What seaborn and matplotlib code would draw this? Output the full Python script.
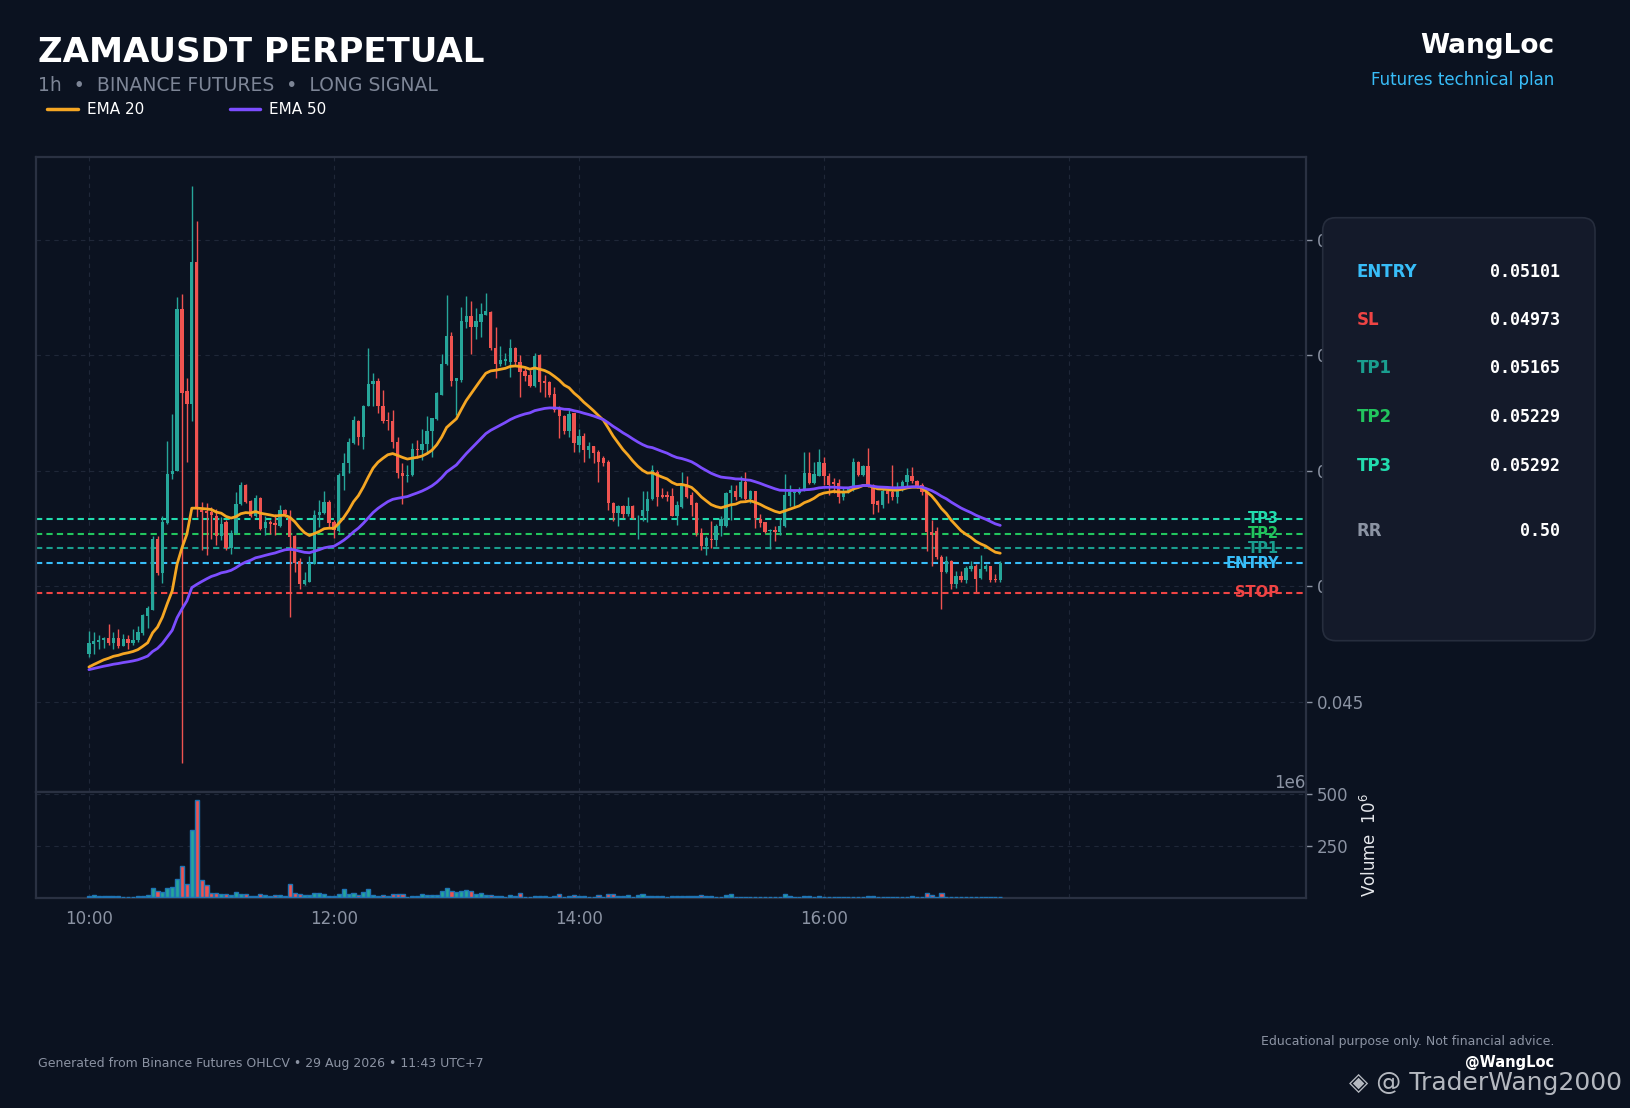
import numpy as np
import pandas as pd
import matplotlib
matplotlib.use("Agg")
import matplotlib.pyplot as plt
import seaborn as sns
from matplotlib.patches import FancyBboxPatch
from matplotlib.lines import Line2D
from matplotlib.ticker import FuncFormatter, ScalarFormatter

# ---------------- data ----------------
symbol = "ZAMAUSDT PERPETUAL"
subtitle = "1h  \u2022  BINANCE FUTURES  \u2022  LONG SIGNAL"
start_time = "2026-08-21 10:00"

opens = [
    0.04707, 0.04751, 0.04761, 0.04770, 0.04778, 0.04753, 0.04778, 0.04743, 0.04773, 0.04753,
    0.04770, 0.04798, 0.04872, 0.04897, 0.05207, 0.05058, 0.05275, 0.05485, 0.05498, 0.06202,
    0.05844, 0.05788, 0.06404, 0.05329, 0.05326, 0.05322, 0.05303, 0.05217, 0.05279, 0.05167,
    0.05231, 0.05358, 0.05437, 0.05368, 0.05303, 0.05382, 0.05253, 0.05279, 0.05276, 0.05260,
    0.05329, 0.05296, 0.05217, 0.05111, 0.05009, 0.05020, 0.05099, 0.05308, 0.05318, 0.05365,
    0.05279, 0.05240, 0.05477, 0.05534, 0.05621, 0.05717, 0.05645, 0.05783, 0.05876, 0.05889,
    0.05779, 0.05721, 0.05717, 0.05624, 0.05491, 0.05477, 0.05484, 0.05596, 0.05589, 0.05618,
    0.05671, 0.05724, 0.05829, 0.05963, 0.06083, 0.05891, 0.05894, 0.06145, 0.06170, 0.06124,
    0.06145, 0.06177, 0.06188, 0.06034, 0.05963, 0.05975, 0.05973, 0.06030, 0.05973, 0.05934,
    0.05915, 0.05868, 0.06001, 0.05889, 0.05886, 0.05833, 0.05767, 0.05736, 0.05671, 0.05750,
    0.05612, 0.05651, 0.05591, 0.05608, 0.05583, 0.05555, 0.05540, 0.05363, 0.05317, 0.05349,
    0.05313, 0.05349, 0.05303, 0.05303, 0.05325, 0.05378, 0.05497, 0.05396, 0.05395, 0.05392,
    0.05307, 0.05343, 0.05443, 0.05396, 0.05361, 0.05231, 0.05174, 0.05207, 0.05203, 0.05260,
    0.05260, 0.05404, 0.05415, 0.05385, 0.05454, 0.05378, 0.05411, 0.05293, 0.05277, 0.05241,
    0.05246, 0.05234, 0.05260, 0.05392, 0.05404, 0.05404, 0.05418, 0.05493, 0.05447, 0.05479,
    0.05533, 0.05478, 0.05450, 0.05447, 0.05386, 0.05415, 0.05418, 0.05540, 0.05483, 0.05522,
    0.05440, 0.05368, 0.05353, 0.05415, 0.05407, 0.05386, 0.05418, 0.05450, 0.05478, 0.05458,
    0.05440, 0.05411, 0.05234, 0.05238, 0.05128, 0.05062, 0.05109, 0.05009, 0.05044, 0.05027,
    0.05076, 0.05090, 0.05037, 0.05074, 0.05088, 0.05033, 0.05027,
]
highs = [
    0.04806, 0.04801, 0.04789, 0.04781, 0.04839, 0.04801, 0.04817, 0.04794, 0.04789, 0.04817,
    0.04827, 0.04880, 0.04914, 0.05220, 0.05220, 0.05303, 0.05629, 0.05745, 0.06252, 0.06268,
    0.05904, 0.06732, 0.06581, 0.05365, 0.05362, 0.05343, 0.05336, 0.05300, 0.05286, 0.05243,
    0.05408, 0.05451, 0.05444, 0.05372, 0.05397, 0.05389, 0.05303, 0.05286, 0.05315, 0.05354,
    0.05336, 0.05329, 0.05221, 0.05124, 0.05063, 0.05131, 0.05332, 0.05372, 0.05415, 0.05372,
    0.05286, 0.05490, 0.05578, 0.05642, 0.05738, 0.05721, 0.05786, 0.06034, 0.05922, 0.05901,
    0.05851, 0.05757, 0.05764, 0.05645, 0.05534, 0.05527, 0.05621, 0.05635, 0.05681, 0.05736,
    0.05731, 0.05843, 0.06004, 0.06260, 0.06102, 0.05904, 0.06210, 0.06256, 0.06234, 0.06207,
    0.06228, 0.06272, 0.06192, 0.06121, 0.06040, 0.06010, 0.06073, 0.06035, 0.06001, 0.05951,
    0.05937, 0.06009, 0.06005, 0.05915, 0.05890, 0.05865, 0.05779, 0.05740, 0.05764, 0.05752,
    0.05680, 0.05662, 0.05626, 0.05610, 0.05591, 0.05565, 0.05547, 0.05367, 0.05353, 0.05353,
    0.05389, 0.05353, 0.05310, 0.05411, 0.05411, 0.05526, 0.05504, 0.05425, 0.05411, 0.05425,
    0.05368, 0.05497, 0.05478, 0.05407, 0.05364, 0.05253, 0.05217, 0.05282, 0.05272, 0.05303,
    0.05407, 0.05440, 0.05440, 0.05476, 0.05497, 0.05418, 0.05415, 0.05315, 0.05280, 0.05249,
    0.05260, 0.05296, 0.05487, 0.05440, 0.05411, 0.05432, 0.05583, 0.05583, 0.05540, 0.05593,
    0.05559, 0.05490, 0.05471, 0.05464, 0.05425, 0.05425, 0.05555, 0.05545, 0.05526, 0.05598,
    0.05443, 0.05375, 0.05432, 0.05432, 0.05526, 0.05454, 0.05461, 0.05511, 0.05519, 0.05461,
    0.05447, 0.05418, 0.05289, 0.05257, 0.05138, 0.05131, 0.05116, 0.05066, 0.05066, 0.05088,
    0.05109, 0.05099, 0.05138, 0.05095, 0.05090, 0.05052, 0.05109,
]
lows = [
    0.04695, 0.04707, 0.04731, 0.04735, 0.04748, 0.04731, 0.04735, 0.04740, 0.04731, 0.04748,
    0.04761, 0.04790, 0.04822, 0.04897, 0.05049, 0.05013, 0.05270, 0.05463, 0.05498, 0.04235,
    0.05540, 0.05717, 0.05300, 0.05157, 0.05135, 0.05207, 0.05178, 0.05200, 0.05157, 0.05142,
    0.05226, 0.05351, 0.05362, 0.05300, 0.05300, 0.05243, 0.05224, 0.05228, 0.05221, 0.05257,
    0.05300, 0.04866, 0.05063, 0.04987, 0.05006, 0.05017, 0.05096, 0.05257, 0.05315, 0.05253,
    0.05211, 0.05235, 0.05419, 0.05491, 0.05617, 0.05613, 0.05595, 0.05779, 0.05779, 0.05750,
    0.05707, 0.05678, 0.05599, 0.05470, 0.05355, 0.05451, 0.05480, 0.05556, 0.05549, 0.05573,
    0.05560, 0.05720, 0.05829, 0.05958, 0.05868, 0.05743, 0.05886, 0.06120, 0.06004, 0.06073,
    0.06080, 0.06174, 0.06023, 0.05901, 0.05955, 0.05960, 0.05905, 0.05960, 0.05819, 0.05891,
    0.05865, 0.05865, 0.05843, 0.05822, 0.05822, 0.05757, 0.05642, 0.05661, 0.05649, 0.05580,
    0.05583, 0.05540, 0.05555, 0.05536, 0.05450, 0.05522, 0.05332, 0.05282, 0.05260, 0.05296,
    0.05303, 0.05292, 0.05205, 0.05282, 0.05277, 0.05375, 0.05349, 0.05382, 0.05371, 0.05303,
    0.05267, 0.05339, 0.05382, 0.05303, 0.05217, 0.05159, 0.05138, 0.05167, 0.05174, 0.05220,
    0.05258, 0.05289, 0.05375, 0.05382, 0.05375, 0.05361, 0.05253, 0.05257, 0.05231, 0.05162,
    0.05195, 0.05224, 0.05257, 0.05346, 0.05346, 0.05401, 0.05415, 0.05444, 0.05444, 0.05476,
    0.05440, 0.05397, 0.05404, 0.05361, 0.05375, 0.05404, 0.05415, 0.05478, 0.05478, 0.05432,
    0.05315, 0.05320, 0.05339, 0.05363, 0.05375, 0.05363, 0.05411, 0.05425, 0.05447, 0.05425,
    0.05397, 0.05152, 0.05090, 0.05119, 0.04904, 0.05059, 0.04987, 0.04994, 0.05019, 0.05013,
    0.05066, 0.04975, 0.05033, 0.05066, 0.05019, 0.05019, 0.05019,
]
closes = [
    0.04756, 0.04765, 0.04768, 0.04776, 0.04756, 0.04778, 0.04743, 0.04773, 0.04753, 0.04770,
    0.04803, 0.04877, 0.04905, 0.05207, 0.05058, 0.05278, 0.05485, 0.05501, 0.06202, 0.05836,
    0.05788, 0.06404, 0.05341, 0.05322, 0.05318, 0.05308, 0.05217, 0.05272, 0.05167, 0.05231,
    0.05358, 0.05437, 0.05365, 0.05303, 0.05382, 0.05250, 0.05279, 0.05272, 0.05264, 0.05329,
    0.05315, 0.05214, 0.05102, 0.05009, 0.05027, 0.05102, 0.05308, 0.05322, 0.05365, 0.05274,
    0.05243, 0.05484, 0.05534, 0.05624, 0.05721, 0.05645, 0.05783, 0.05876, 0.05889, 0.05779,
    0.05717, 0.05714, 0.05624, 0.05491, 0.05477, 0.05484, 0.05595, 0.05589, 0.05618, 0.05674,
    0.05728, 0.05839, 0.05963, 0.06083, 0.05889, 0.05901, 0.06148, 0.06170, 0.06124, 0.06148,
    0.06178, 0.06191, 0.06030, 0.05963, 0.05980, 0.05985, 0.06030, 0.05973, 0.05930, 0.05911,
    0.05868, 0.05997, 0.05886, 0.05882, 0.05829, 0.05764, 0.05736, 0.05671, 0.05747, 0.05621,
    0.05651, 0.05591, 0.05608, 0.05579, 0.05540, 0.05533, 0.05363, 0.05317, 0.05349, 0.05313,
    0.05349, 0.05296, 0.05307, 0.05329, 0.05378, 0.05504, 0.05389, 0.05389, 0.05389, 0.05307,
    0.05353, 0.05447, 0.05389, 0.05353, 0.05231, 0.05174, 0.05210, 0.05200, 0.05263, 0.05292,
    0.05404, 0.05418, 0.05385, 0.05454, 0.05378, 0.05411, 0.05296, 0.05274, 0.05236, 0.05246,
    0.05236, 0.05263, 0.05397, 0.05407, 0.05409, 0.05418, 0.05493, 0.05447, 0.05487, 0.05540,
    0.05476, 0.05440, 0.05443, 0.05389, 0.05404, 0.05421, 0.05540, 0.05483, 0.05522, 0.05440,
    0.05358, 0.05353, 0.05411, 0.05401, 0.05386, 0.05425, 0.05454, 0.05483, 0.05458, 0.05432,
    0.05407, 0.05234, 0.05224, 0.05128, 0.05062, 0.05109, 0.05009, 0.05044, 0.05027, 0.05080,
    0.05090, 0.05033, 0.05076, 0.05088, 0.05027, 0.05027, 0.05102,
]
# volume in millions
volumes_m = [
    5, 11, 6, 6, 6, 6, 6, 2, 2, 2,
    6, 6, 11, 46, 31, 26, 46, 51, 90, 154,
    65, 325, 472, 85, 60, 21, 21, 15, 15, 11,
    26, 15, 15, 8, 8, 16, 11, 5, 11, 11,
    8, 65, 21, 16, 11, 11, 21, 21, 16, 8,
    8, 16, 41, 16, 21, 11, 26, 41, 11, 5,
    11, 5, 16, 16, 16, 2, 5, 5, 16, 11,
    11, 11, 31, 46, 31, 26, 31, 36, 31, 16,
    21, 11, 11, 6, 6, 2, 11, 8, 21, 2,
    2, 6, 6, 5, 3, 5, 16, 2, 5, 11,
    5, 5, 1, 1, 11, 1, 16, 16, 5, 5,
    11, 2, 11, 16, 5, 5, 5, 5, 2, 5,
    5, 5, 5, 5, 5, 11, 5, 5, 2, 1,
    11, 16, 1, 1, 1, 1, 1, 1, 1, 1,
    1, 1, 16, 5, 1, 1, 5, 5, 1, 5,
    1, 1, 1, 1, 1, 1, 1, 1, 1, 5,
    5, 1, 1, 1, 1, 1, 1, 1, 5, 1,
    1, 19, 10, 1, 19, 1, 1, 1, 1, 1,
    1, 1, 1, 1, 1, 1, 1,
]

entry_price = 0.05101
sl_price = 0.04973
tp1_price = 0.05165
tp2_price = 0.05229
tp3_price = 0.05292
rr_value = 0.50
ema20_prior = 0.04640
ema50_prior = 0.04635

# ---------------- styling ----------------
sns.set_style("dark")
plt.rcParams["font.family"] = ["DejaVu Sans"]

BG = "#0b1220"
PANEL = "#141a2a"
FRAME = "#2a3142"
GRID = "#1f2738"
GRAY = "#8b93a3"
GREEN = "#26a69a"
RED = "#ef5350"
ORANGE = "#f5a623"
PURPLE = "#7c4dff"
VOL_EDGE = "#1f74b4"
C_TP3 = "#22dcae"
C_TP2 = "#22c55e"
C_TP1 = "#1a9e8f"
C_ENTRY = "#38bdf8"
C_SL = "#ef4444"

o = np.array(opens)
h = np.array(highs)
l = np.array(lows)
c = np.array(closes)
v = np.array(volumes_m, dtype=float) * 1e6
n = len(c)
xs = np.arange(n)
times = pd.date_range(start_time, periods=n, freq="h")
cols = np.where(c >= o, GREEN, RED)


def ema(values, span, prior):
    a = 2.0 / (span + 1.0)
    out = []
    prev = prior
    for val in values:
        prev = prev + a * (val - prev)
        out.append(prev)
    return np.array(out)


ema20 = ema(c, 20, ema20_prior)
ema50 = ema(c, 50, ema50_prior)

W, H = 1631, 1108
fig = plt.figure(figsize=(W / 100, H / 100), dpi=100, facecolor=BG)

ax = fig.add_axes([36 / W, 1 - 792 / H, (1306 - 36) / W, (792 - 157) / H])
axv = fig.add_axes([36 / W, 1 - 898 / H, (1306 - 36) / W, (898 - 792) / H])

for a_ in (ax, axv):
    a_.set_facecolor(BG)
    for s in a_.spines.values():
        s.set_visible(True)
        s.set_color(FRAME)
        s.set_linewidth(1.6)
    a_.set_axisbelow(True)
    a_.grid(True, color=GRID, linestyle=(0, (4, 4)), linewidth=0.8)
    a_.set_xlim(-10.8, 248.4)
    a_.set_xticks([0, 50, 100, 150, 200])

# candles
ax.vlines(xs, l, h, colors=cols, linewidth=1.0, zorder=3)
body_lo = np.minimum(o, c)
body_h = np.maximum(np.abs(c - o), 0.00003)
ax.bar(xs, body_h, bottom=body_lo, width=0.68, color=cols, linewidth=0, zorder=4)

# EMAs
sns.lineplot(x=xs, y=ema20, ax=ax, color=ORANGE, linewidth=2.0, zorder=5, legend=False)
sns.lineplot(x=xs, y=ema50, ax=ax, color=PURPLE, linewidth=2.0, zorder=5, legend=False)

# levels
levels = [("TP3", tp3_price, C_TP3), ("TP2", tp2_price, C_TP2), ("TP1", tp1_price, C_TP1),
          ("ENTRY", entry_price, C_ENTRY), ("STOP", sl_price, C_SL)]
for name, lvl, col in levels:
    ax.axhline(lvl, color=col, linewidth=1.5, linestyle=(0, (3, 2)), zorder=2)
    ax.text(0.979, lvl, name, transform=ax.get_yaxis_transform(), ha="right", va="center",
            color=col, fontsize=10.5, fontweight="bold", zorder=6)

ax.set_ylim(0.04110, 0.06859)
ax.set_yticks([0.045, 0.050, 0.055, 0.060, 0.065])
ax.yaxis.tick_right()
ax.tick_params(axis="y", colors=GRAY, labelsize=12, length=4, width=1, pad=4)
ax.tick_params(axis="x", labelbottom=False, length=0)
ax.set_xlabel("")
ax.set_ylabel("")

# volume
axv.bar(xs, v, width=0.85, color=cols, edgecolor=VOL_EDGE, linewidth=1.0, zorder=3)
axv.set_ylim(-3e6, 512e6)
axv.set_yticks([250e6, 500e6])
axv.yaxis.tick_right()
axv.yaxis.set_label_position("right")
fmt = ScalarFormatter()
fmt.set_powerlimits((6, 6))
axv.yaxis.set_major_formatter(fmt)
axv.yaxis.get_offset_text().set_color(GRAY)
axv.yaxis.get_offset_text().set_fontsize(12)
axv.set_ylabel(r"Volume  $10^6$", color="#e6e8ec", fontsize=12, labelpad=8)
axv.tick_params(axis="y", colors=GRAY, labelsize=12, length=4, width=1, pad=4)
axv.xaxis.set_major_formatter(FuncFormatter(
    lambda val, pos: times[int(val)].strftime("%H:%M") if 0 <= int(val) < n else ""))
axv.tick_params(axis="x", colors=GRAY, labelsize=12, length=4, width=1, pad=5)
axv.set_xlabel("")

# header
fig.text(38 / W, 1 - 62 / H, symbol, fontsize=24.6, fontweight="bold", color="white",
         ha="left", va="baseline")
fig.text(38 / W, 1 - 91 / H, subtitle, fontsize=13.5, color="#7d8596", ha="left", va="baseline")
fig.text(1554 / W, 1 - 46 / H, "WangLoc", fontsize=19, fontweight="bold", color="white",
         ha="right", va="center")
fig.text(1554 / W, 1 - 80 / H, "Futures technical plan", fontsize=12, color="#38bdf8",
         ha="right", va="center")

handles = [Line2D([], [], color=ORANGE, linewidth=2.5), Line2D([], [], color=PURPLE, linewidth=2.5)]
fig.legend(handles, ["EMA 20", "EMA 50"], loc="center left", bbox_to_anchor=(47 / W, 1 - 110 / H),
           ncol=2, frameon=False, fontsize=11, labelcolor="white", handlelength=2.0,
           handletextpad=0.6, columnspacing=5.6, borderaxespad=0, borderpad=0)

# info panel
px0, py0, px1, py1 = 1322.7, 217.7, 1595.0, 640.7
panel = FancyBboxPatch((px0 / W, 1 - py1 / H), (px1 - px0) / W, (py1 - py0) / H,
                       boxstyle="round,pad=0,rounding_size=0.008", mutation_aspect=W / H,
                       transform=fig.transFigure, facecolor=PANEL, edgecolor="#262d3d",
                       linewidth=1.2, zorder=5)
fig.add_artist(panel)
rows = [("ENTRY", f"{entry_price:.5f}", C_ENTRY, 271.7),
        ("SL", f"{sl_price:.5f}", C_SL, 320.0),
        ("TP1", f"{tp1_price:.5f}", C_TP1, 368.3),
        ("TP2", f"{tp2_price:.5f}", C_TP2, 417.0),
        ("TP3", f"{tp3_price:.5f}", C_TP3, 466.0),
        ("RR", f"{rr_value:.2f}", GRAY, 530.7)]
for lab, val, col, yy in rows:
    fig.text(1357 / W, 1 - yy / H, lab, color=col, fontsize=12, fontweight="bold",
             ha="left", va="center", zorder=6)
    fig.text(1560 / W, 1 - yy / H, val, color="white", fontsize=12, fontweight="bold",
             family="DejaVu Sans Mono", ha="right", va="center", zorder=6)

# footer
fig.text(38 / W, 1 - 1064 / H, "Generated from Binance Futures OHLCV \u2022 29 Aug 2026 \u2022 11:43 UTC+7",
         fontsize=9, color=GRAY, ha="left", va="center")
fig.text(1554 / W, 1 - 1042 / H, "Educational purpose only. Not financial advice.",
         fontsize=9, color=GRAY, ha="right", va="center")
fig.text(1554 / W, 1 - 1063 / H, "@WangLoc", fontsize=10.5, fontweight="bold", color="white",
         ha="right", va="center")
fig.text(1622 / W, 1 - 1083 / H, "\u25c8 @ TraderWang2000", fontsize=18, color="#d3d6dc",
         alpha=0.85, ha="right", va="center")

fig.savefig("out.png", dpi=100, facecolor=BG)
